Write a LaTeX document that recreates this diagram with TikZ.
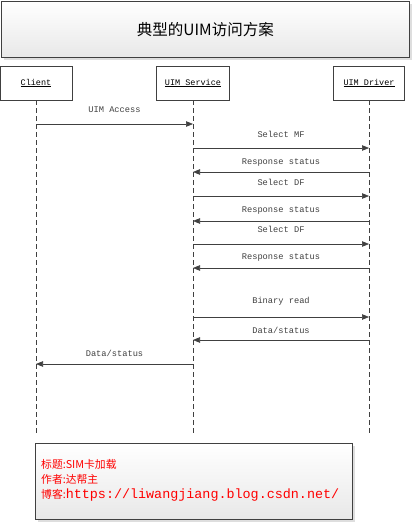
\documentclass[tikz,border=0pt]{standalone}
\usepackage{fontspec}
\setmainfont{Liberation Sans}
\setmonofont{Liberation Mono}
\newfontfamily\cjk{Noto Sans CJK SC}
\usetikzlibrary{arrows.meta,shadows}

\begin{document}
\begin{tikzpicture}[x=1pt,y=-1pt,
    caja/.style={draw=linea,line width=0.8pt,top color=white,bottom color=black!9,
        drop shadow={shadow xshift=2.5pt,shadow yshift=-2.5pt,fill=sombra,opacity=1}},
    actor/.style={draw=linea,line width=0.7pt,fill=white,minimum height=34pt,
        font=\ttfamily\fontsize{8.5}{10}\selectfont},
    vida/.style={linea,line width=0.6pt,dash pattern=on 5pt off 3pt},
    msg/.style={linea,line width=0.7pt,-{Triangle[length=7pt,width=5.5pt]}},
    etiqueta/.style={font=\ttfamily\fontsize{8.7}{10}\selectfont,inner sep=0pt},
    nota/.style={red,font=\cjk\fontsize{10.8}{12}\selectfont,anchor=west,inner sep=0pt}]
        %colores
        \colorlet{linea}{black!75}
        \colorlet{sombra}{black!13}

        \useasboundingbox (0,0) rectangle (413,522);

        % Titulo
        \node[caja,anchor=north west,minimum width=408pt,minimum height=56pt] (titulo) at (1,1)
            {\cjk\fontsize{15.5}{18}\selectfont 典型的UIM访问方案};

        % Participantes
        \node[actor,minimum width=72pt] (cli) at (36,83) {\underline{Client}};
        \node[actor,minimum width=73pt] (srv) at (193,83) {\underline{UIM Service}};
        \node[actor,minimum width=71pt] (drv) at (369,83) {\underline{UIM Driver}};

        % Lineas de vida
        \foreach \p in {cli,srv,drv}
            \draw[vida] (\p.south) -- (\p |- 0,435) coordinate (\p-fin);

        % Mensajes: origen/destino/y/desplazamiento/texto
        \foreach \a/\b/\y/\d/\txt in {cli/srv/124/14/UIM Access,
                srv/drv/148/14/Select MF,
                drv/srv/172/9/Response status,
                srv/drv/196/14/Select DF,
                drv/srv/221/10/Response status,
                srv/drv/244/15/Select DF,
                drv/srv/268/10/Response status,
                srv/drv/317/16/Binary read,
                drv/srv/340/10/{Data/status},
                srv/cli/364/11/{Data/status}}
            \draw[msg] (\a |- 0,\y) -- (\b |- 0,\y)
                node[etiqueta,midway,yshift=\d pt] {\txt};

        % Nota
        \node[caja,anchor=north west,minimum width=317pt,minimum height=76pt] (nota) at (35,443) {};
        \node[nota] (nota1) at (41,464) {标题:SIM卡加载};
        \node[nota] (nota2) at (41,479) {作者:达帮主};
        \node[nota] (nota3) at (41,495) {博客:{\ttfamily\fontsize{13.4}{15}\selectfont https://liwangjiang.blog.csdn.net/}};
    \end{tikzpicture}
\end{document}
